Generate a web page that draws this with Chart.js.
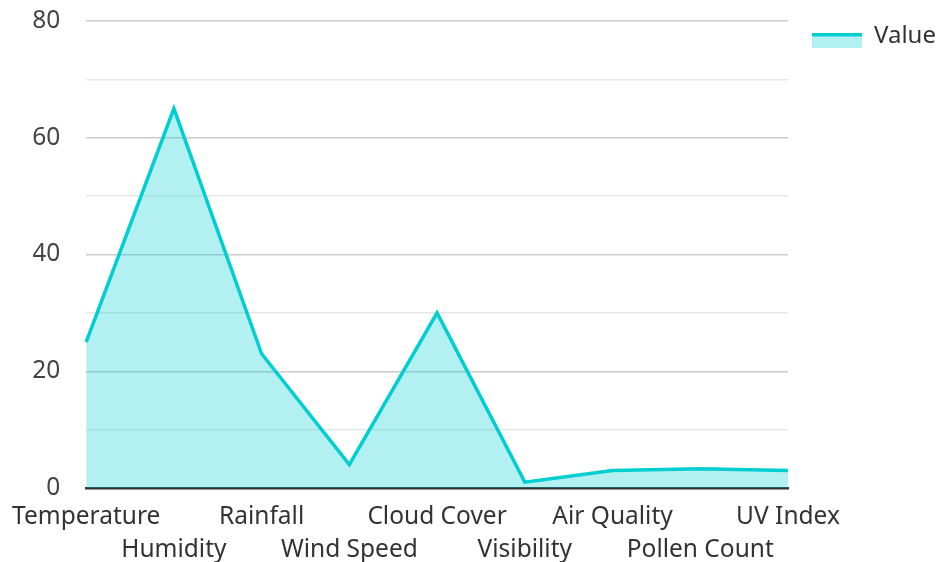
<!DOCTYPE html>
<html>
<head>
<meta charset="utf-8">
<script src="https://cdn.jsdelivr.net/npm/chart.js@4/dist/chart.umd.min.js"></script>
<style>
  html, body { margin: 0; padding: 0; background: #ffffff; }
  #wrap { width: 937px; height: 562px; }
</style>
</head>
<body>
<div id="wrap"><canvas id="c" width="937" height="562"></canvas></div>
<script>
// Weather metrics shown as a filled line
const categories = ['Temperature', 'Humidity', 'Rainfall', 'Wind Speed', 'Cloud Cover',
                    'Visibility', 'Air Quality', 'Pollen Count', 'UV Index'];
const values = [25, 65, 23, 4, 30, 1, 3, 3.3, 3];
const seriesName = 'Value';
const yTicks = [0, 20, 40, 60, 80];

const LINE = '#00CED1';
const FILL = 'rgba(0, 206, 209, 0.3)';
const FONT = '"Noto Sans", "Open Sans", sans-serif';

// Legend swatch: filled rectangle with a thick top edge, sitting a bit below the text centre
function makeSwatch() {
  const cv = document.createElement('canvas');
  cv.width = 50; cv.height = 24;
  const g = cv.getContext('2d');
  g.fillStyle = FILL;
  g.fillRect(0, 9, 50, 15);
  g.fillStyle = LINE;
  g.fillRect(0, 9, 50, 3.5);
  return cv;
}
const swatch = makeSwatch();

new Chart(document.getElementById('c'), {
  type: 'line',
  data: {
    labels: categories,
    datasets: [{
      label: seriesName,
      data: values,
      borderColor: LINE,
      backgroundColor: FILL,
      borderWidth: 3.5,
      fill: 'origin',
      tension: 0,
      pointRadius: 0,
      pointHoverRadius: 0,
      pointStyle: swatch
    }]
  },
  options: {
    responsive: false,
    animation: false,
    layout: { padding: { top: 0, right: 0, left: 32, bottom: 0 } },
    plugins: {
      tooltip: { enabled: false },
      legend: {
        position: 'right',
        align: 'start',
        maxWidth: 149,
        labels: {
          usePointStyle: true,
          pointStyleWidth: 50,
          color: '#333333',
          font: { family: FONT, size: 24 },
          padding: 24
        }
      }
    },
    scales: {
      x: {
        offset: false,
        grid: { display: false, drawTicks: false },
        border: { display: true, color: '#333333', width: 2.5 },
        afterFit: function (s) { s.height = 74; },
        ticks: {
          autoSkip: false,
          maxRotation: 0,
          minRotation: 0,
          padding: 12,
          color: '#333333',
          font: { family: FONT, size: 24.5, lineHeight: 1.35 },
          callback: function (v, i) {
            const name = categories[i];
            return i % 2 === 0 ? [name, ''] : ['', name];
          }
        }
      },
      y: {
        min: 0,
        max: 80,
        border: { display: false },
        afterFit: function (s) {
          s.width = 53;
          s.paddingTop = 21;
          s.paddingBottom = 0;
        },
        grid: {
          drawTicks: false,
          lineWidth: 1.5,
          color: function (ctx) {
            const v = ctx.tick ? ctx.tick.value : 0;
            return yTicks.includes(v) ? '#cccccc' : '#e8e8e8';
          }
        },
        ticks: {
          stepSize: 10,
          padding: 26,
          color: '#444444',
          font: { family: FONT, size: 24.5 },
          callback: function (v) { return yTicks.includes(v) ? String(v) : ''; }
        }
      }
    }
  }
});
</script>
</body>
</html>
